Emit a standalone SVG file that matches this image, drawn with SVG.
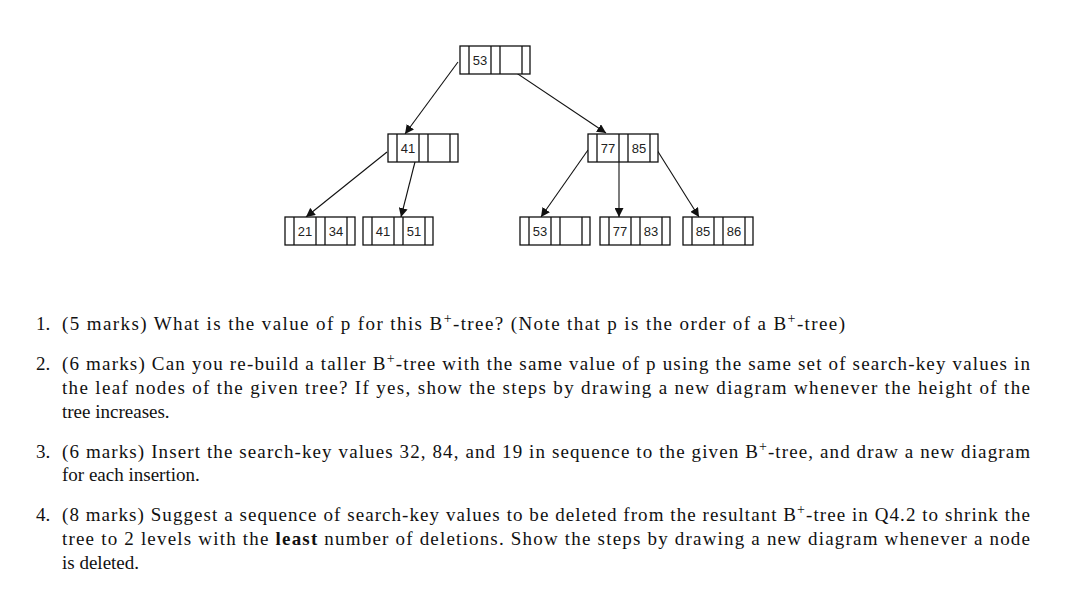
<svg xmlns="http://www.w3.org/2000/svg" width="1080" height="612" viewBox="0 0 1080 612">
<style>
.n text{font-family:"Liberation Sans",Arial,sans-serif;font-size:13px;fill:#222;text-anchor:middle}
.c line{stroke:#111;stroke-width:1.1;marker-end:url(#a)}
.q{font-family:"Liberation Serif","Times New Roman",serif;font-size:19px;fill:#111}
</style>
<defs>
<marker id="a" viewBox="0 0 10 10" refX="10" refY="5" markerWidth="9" markerHeight="9" markerUnits="userSpaceOnUse" orient="auto"><path d="M0,0L10,5L0,10z" fill="#111"/></marker>
<g id="nd" fill="#fff" stroke="#111" stroke-width="1.3"><rect x="0" y="0" width="70" height="28"/><path d="M9,0V28M31,0V28M40,0V28M62,0V28" fill="none"/></g>
</defs>
<g class="c">
<line x1="458" y1="62" x2="405" y2="134"/>
<line x1="497" y1="60" x2="606" y2="133"/>
<line x1="387" y1="152" x2="306" y2="217"/>
<line x1="418" y1="150" x2="401" y2="217"/>
<line x1="588" y1="150" x2="541" y2="217"/>
<line x1="619" y1="162" x2="619" y2="217"/>
<line x1="657" y1="150" x2="699" y2="217"/>
</g>
<g id="root" class="n" transform="translate(460,46)"><use href="#nd"/><text x="20" y="19">53</text></g>
<g id="i41" class="n" transform="translate(388,134)"><use href="#nd"/><text x="20" y="19">41</text></g>
<g id="i77" class="n" transform="translate(588,134)"><use href="#nd"/><text x="20" y="19">77</text><text x="51" y="19">85</text></g>
<g id="l1" class="n" transform="translate(285,217)"><use href="#nd"/><text x="20" y="19">21</text><text x="51" y="19">34</text></g>
<g id="l2" class="n" transform="translate(363,217)"><use href="#nd"/><text x="20" y="19">41</text><text x="51" y="19">51</text></g>
<g id="l3" class="n" transform="translate(520,217)"><use href="#nd"/><text x="20" y="19">53</text></g>
<g id="l4" class="n" transform="translate(600,217)"><use href="#nd"/><text x="20" y="19">77</text><text x="51" y="19">83</text></g>
<g id="l5" class="n" transform="translate(683,217)"><use href="#nd"/><text x="20" y="19">85</text><text x="51" y="19">86</text></g>
<g class="q">
<text x="36" y="330">1.</text>
<text x="62" y="330" textLength="783" lengthAdjust="spacing">(5 marks) What is the value of p for this B<tspan dy="-7" font-size="14">+</tspan><tspan dy="7">-tree? (Note that p is the order of a B</tspan><tspan dy="-7" font-size="14">+</tspan><tspan dy="7">-tree)</tspan></text>
<text x="36" y="370">2.</text>
<text x="62" y="370" textLength="968" lengthAdjust="spacing">(6 marks) Can you re-build a taller B<tspan dy="-7" font-size="14">+</tspan><tspan dy="7">-tree with the same value of p using the same set of search-key values in</tspan></text>
<text x="62" y="394" textLength="968" lengthAdjust="spacing">the leaf nodes of the given tree? If yes, show the steps by drawing a new diagram whenever the height of the</text>
<text x="62" y="418">tree increases.</text>
<text x="36" y="458">3.</text>
<text x="62" y="458" textLength="968" lengthAdjust="spacing">(6 marks) Insert the search-key values 32, 84, and 19 in sequence to the given B<tspan dy="-7" font-size="14">+</tspan><tspan dy="7">-tree, and draw a new diagram</tspan></text>
<text x="62" y="481">for each insertion.</text>
<text x="36" y="521">4.</text>
<text x="62" y="521" textLength="968" lengthAdjust="spacing">(8 marks) Suggest a sequence of search-key values to be deleted from the resultant B<tspan dy="-7" font-size="14">+</tspan><tspan dy="7">-tree in Q4.2 to shrink the</tspan></text>
<text x="62" y="545" textLength="968" lengthAdjust="spacing">tree to 2 levels with the <tspan font-weight="bold">least</tspan> number of deletions. Show the steps by drawing a new diagram whenever a node</text>
<text x="62" y="569">is deleted.</text>
</g>
</svg>
